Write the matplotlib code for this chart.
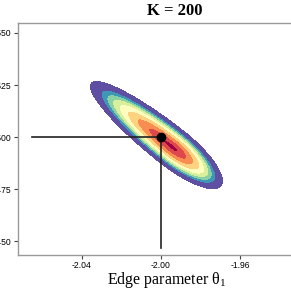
import numpy as np
import matplotlib
matplotlib.use("Agg")
import matplotlib.pyplot as plt

# true parameter (marked point + guide lines)
theta_true = -2.00
theta2_true = 0.500
hline_start = -2.0653
vline_end = 0.4466

# posterior blob (approximate shape)
center_x, center_y = -1.9944, 0.4952
angle_deg = -36.7            # direction of the long axis
half_long_lower = 0.0310     # toward lower right
half_long_upper = 0.0510     # toward upper left
half_short = 0.0096
band_edges = [0.0, 0.12, 0.29, 0.43, 0.55, 0.65, 0.73, 0.80, 0.87, 1.0]

xticks = [-2.04, -2.00, -1.96]
xtick_labels = ["-2.04", "-2.00", "-1.96"]
yticks = [0.450, 0.475, 0.500, 0.525, 0.550]
ytick_labels = ["0.450", "0.475", "0.500", "0.525", "0.550"]

fig = plt.figure(figsize=(2.91, 2.91), dpi=100)
ax = fig.add_axes([18 / 291, 36 / 291, 298 / 291, 232 / 291])
ax.set_xlim(-2.0724, -1.9215)
ax.set_ylim(0.4433, 0.5548)

xg = np.linspace(-2.0724, -1.9215, 500)
yg = np.linspace(0.4433, 0.5548, 500)
X, Y = np.meshgrid(xg, yg)
t = np.deg2rad(angle_deg)
a = (X - center_x) * np.cos(t) + (Y - center_y) * np.sin(t)
b = -(X - center_x) * np.sin(t) + (Y - center_y) * np.cos(t)
A = np.where(a > 0, half_long_lower, half_long_upper)
d = np.sqrt((a / A) ** 2 + (b / half_short) ** 2)

cmap = plt.get_cmap("Spectral_r")
cols = [cmap(v) for v in np.linspace(0, 1, 9)][::-1]
ax.contourf(X, Y, d, levels=band_edges, colors=cols)

ax.plot([hline_start, theta_true], [theta2_true, theta2_true], color="#222222", lw=1.2)
ax.plot([theta_true, theta_true], [theta2_true, vline_end], color="#222222", lw=1.2)
ax.plot(theta_true, theta2_true, "o", color="black", ms=6, zorder=5)

ax.set_xticks(xticks)
ax.set_xticklabels(xtick_labels)
ax.set_yticks(yticks)
ax.set_yticklabels(ytick_labels)
for lab in ax.get_xticklabels() + ax.get_yticklabels():
    lab.set_family("Liberation Sans")
    lab.set_fontsize(6.2)
ax.tick_params(length=3, width=0.8, color="#444444", pad=1.5)
for s in ax.spines.values():
    s.set_color("#999999")
    s.set_linewidth(1.0)

ax.set_title("K = 200", family="Liberation Serif", fontweight="bold",
             fontsize=12, x=0.527, pad=6)
ax.set_xlabel(r"Edge parameter $\mathregular{\theta_1}$", family="Liberation Serif",
              fontsize=11.5, labelpad=0)

fig.savefig("out.png", dpi=100)
